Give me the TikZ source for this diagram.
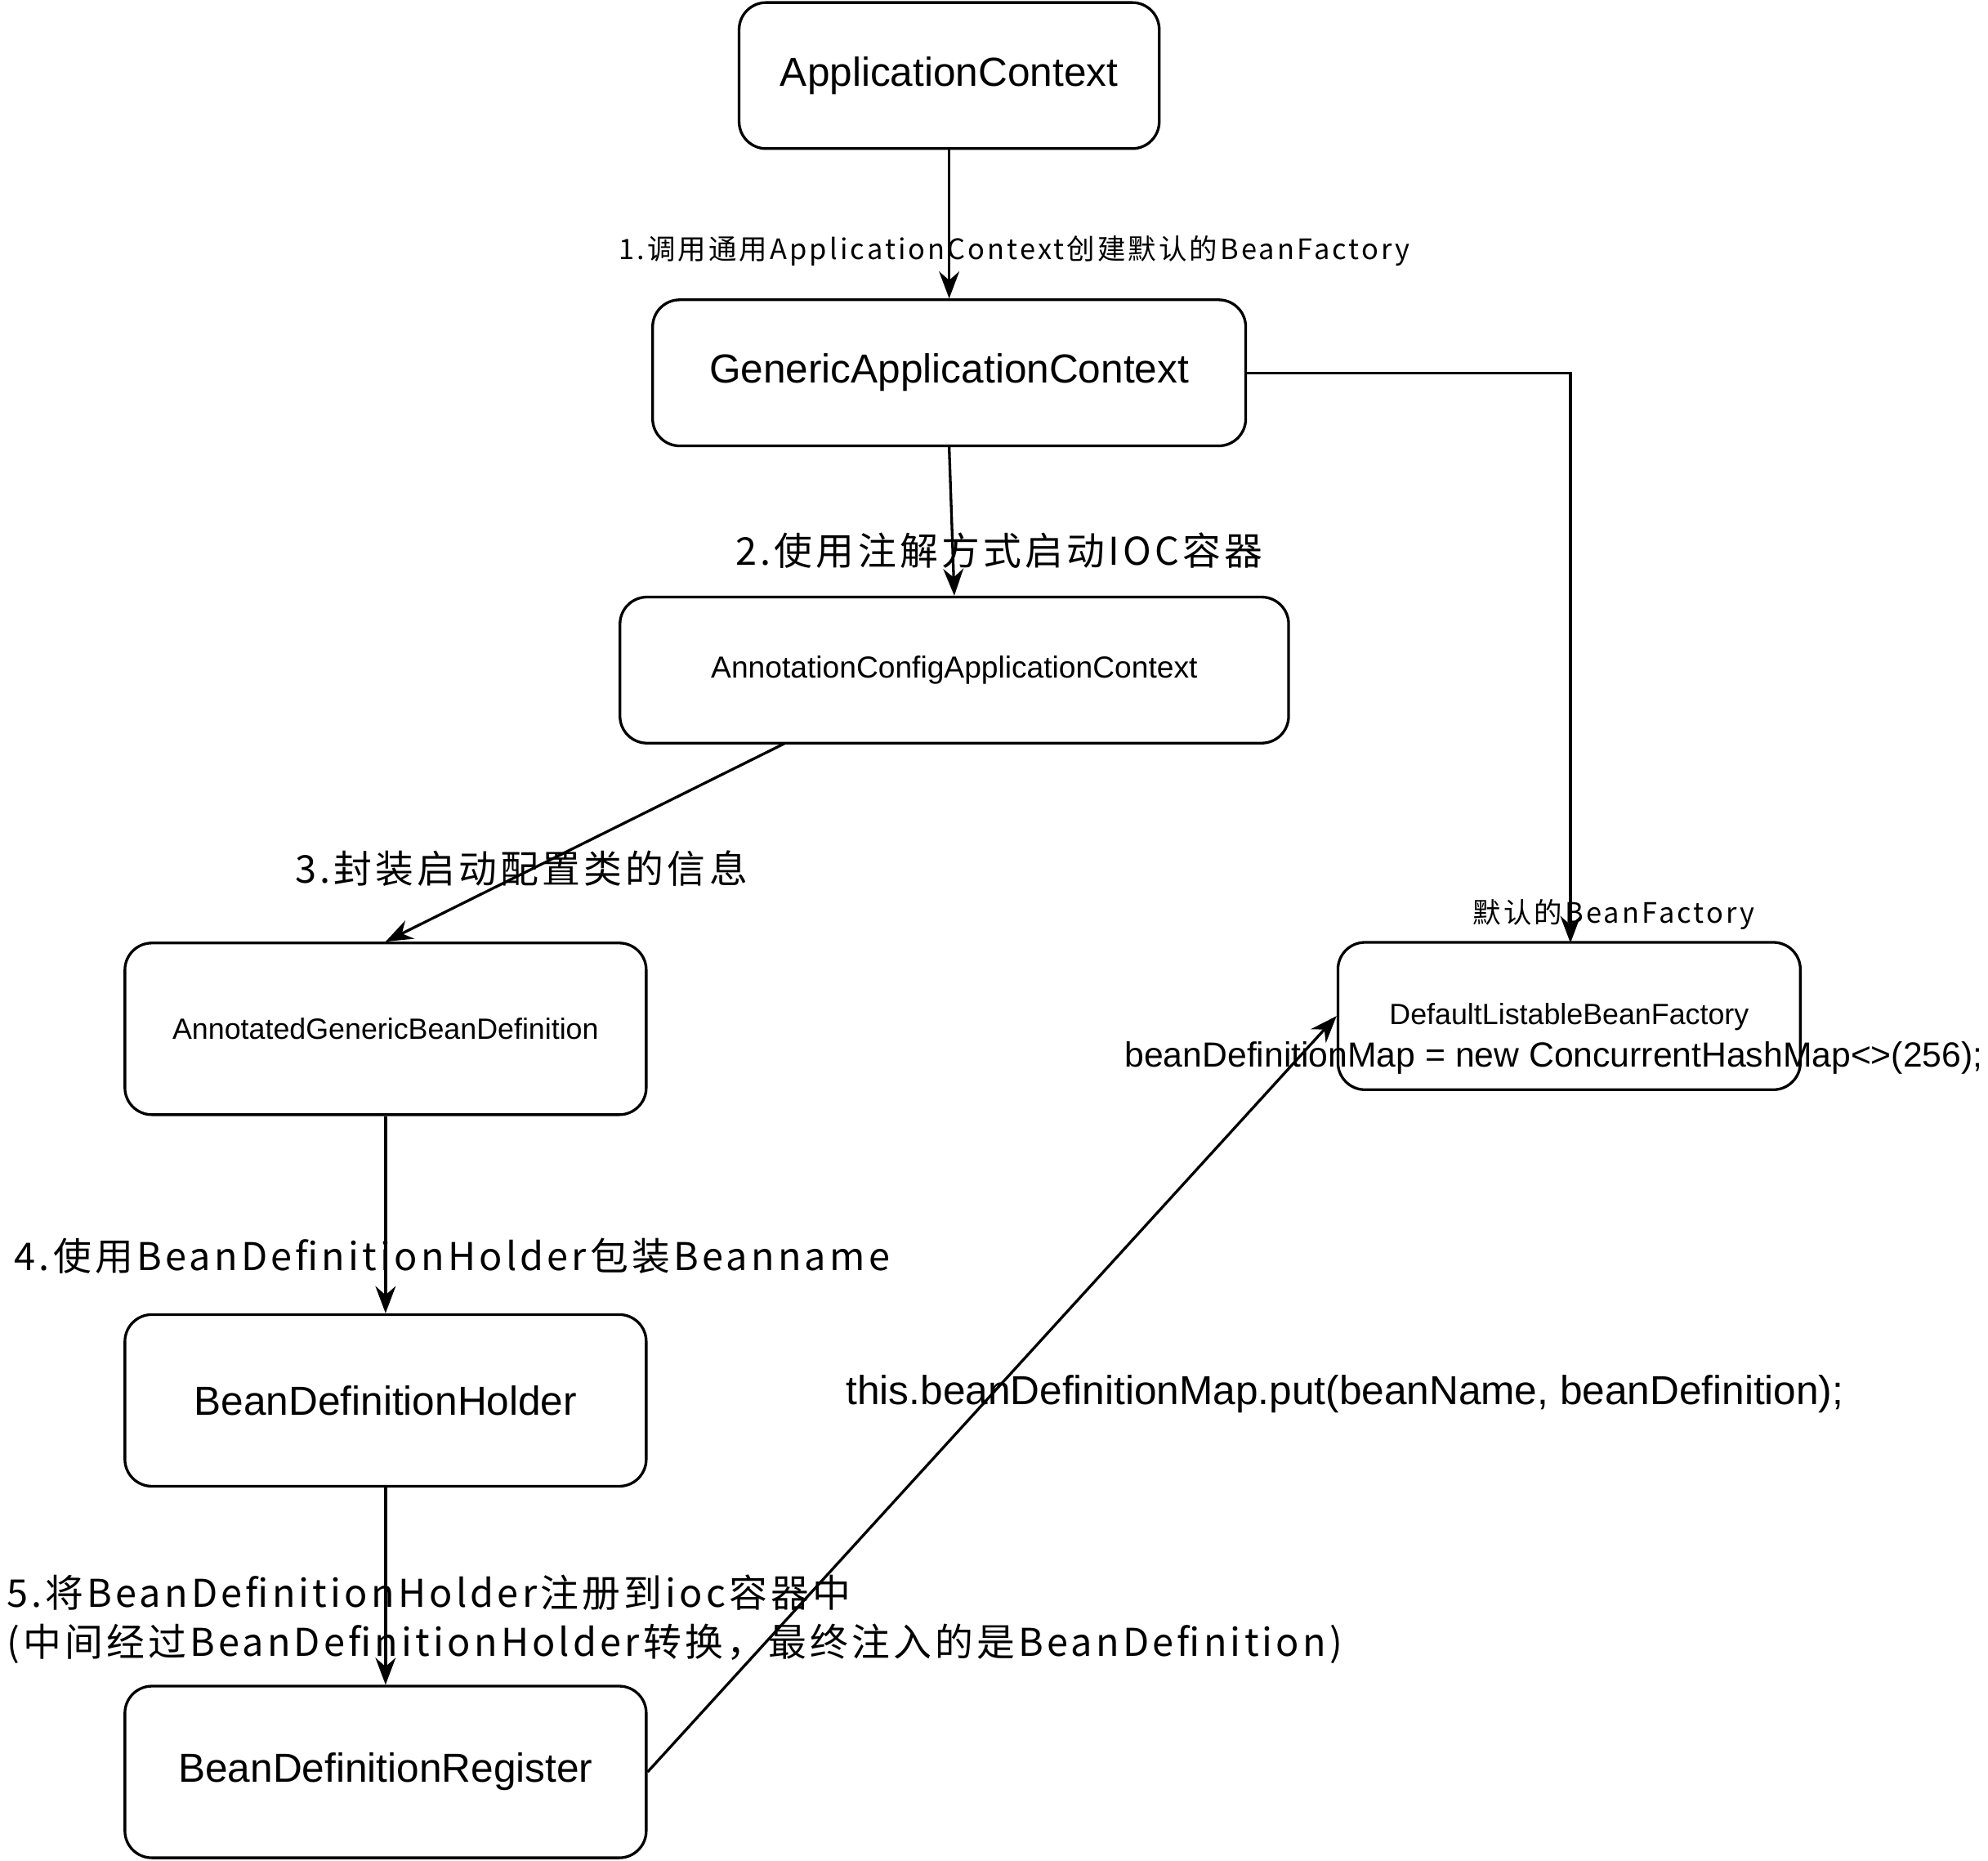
\documentclass[tikz,border=0pt]{standalone}
\usepackage{fontspec}
\setmainfont{Liberation Sans}
\newfontfamily\cjk{Noto Sans CJK SC}[LetterSpace=9]
\usetikzlibrary{arrows.meta}
\tikzset{
  box/.style={draw, rounded corners=12pt, line width=1.2pt, align=center, inner sep=0pt},
  conn/.style={line width=1.2pt, -{Stealth[length=12pt,width=9pt]}},
  lab/.style={font=\cjk\fontsize{12.5}{16}\selectfont, fill=none, inner sep=1pt},
  biglab/.style={font=\cjk\fontsize{17}{21}\selectfont, inner sep=1pt, align=left}
}
\begin{document}
\begin{tikzpicture}[x=0.02cm,y=-0.02cm]
    \useasboundingbox (0,0) rectangle (1552,1452);
    % boxes
    \node[box, minimum width=328*0.02cm, minimum height=114*0.02cm, font=\fontsize{18}{22}\selectfont] (ac) at (741,59) {ApplicationContext};
    \node[box, minimum width=463*0.02cm, minimum height=114*0.02cm, font=\fontsize{18}{22}\selectfont] (gac) at (741,291) {GenericApplicationContext};
    \node[box, minimum width=522*0.02cm, minimum height=114*0.02cm, font=\fontsize{13.5}{16}\selectfont] (acac) at (745,523) {AnnotationConfigApplicationContext};
    \node[box, minimum width=407*0.02cm, minimum height=134*0.02cm, font=\fontsize{13}{16}\selectfont] (agbd) at (301,803) {AnnotatedGenericBeanDefinition};
    \node[box, minimum width=407*0.02cm, minimum height=134*0.02cm, font=\fontsize{18}{22}\selectfont] (bdh) at (301,1093) {BeanDefinitionHolder};
    \node[box, minimum width=407*0.02cm, minimum height=134*0.02cm, font=\fontsize{18}{22}\selectfont] (bdr) at (301,1383) {BeanDefinitionRegister};
    \node[box, minimum width=361*0.02cm, minimum height=115*0.02cm] (dlbf) at (1225,793) {};
    \node[font=\fontsize{13}{16}\selectfont] (dlbft) at (1225,794) {DefaultListableBeanFactory};
    \node[font=\fontsize{15.5}{18}\selectfont] (dlbfm) at (1213,826) {beanDefinitionMap = new ConcurrentHashMap<>(256);};
    % connectors
    \draw[conn] (ac.south) -- (gac.north);
    \draw[conn] (gac.south) -- (acac.north);
    \coordinate (acacout) at (613,580);
    \draw[conn] (acacout) -- (agbd.north);
    \draw[conn] (agbd.south) -- (bdh.north);
    \draw[conn] (bdh.south) -- (bdr.north);
    \coordinate (dlbftop) at (1226,736);
    \draw[conn] (gac.east) -| (dlbftop);
    \draw[conn] (bdr.east) -- (dlbf.west);
    % labels
    \node[lab] (l1) at (792,196) {1.调用通用ApplicationContext创建默认的BeanFactory};
    \node[biglab] (l2) at (780,430) {2.使用注解方式启动IOC容器};
    \node[biglab] (l3) at (407,678) {3.封装启动配置类的信息};
    \node[lab] (ldef) at (1260,714) {默认的BeanFactory};
    \node[biglab] (l4) at (353,980) {4.使用BeanDefinitionHolder包装Beanname};
    \node[font=\fontsize{18}{22}\selectfont] (lput) at (1050,1088) {this.beanDefinitionMap.put(beanName, beanDefinition);};
    \node[biglab, anchor=west] (l5a) at (3,1243) {5.将BeanDefinitionHolder注册到ioc容器中};
    \node[biglab, anchor=west] (l5b) at (3,1283) {(中间经过BeanDefinitionHolder转换，最终注入的是BeanDefinition)};
\end{tikzpicture}
\end{document}
